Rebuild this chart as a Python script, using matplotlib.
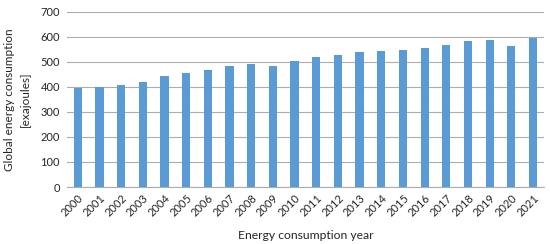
import matplotlib
matplotlib.use("Agg")
import matplotlib.pyplot as plt
import numpy as np

years = [str(y) for y in range(2000, 2022)]
consumption = [394, 399, 406, 420, 442, 456, 468, 484, 490, 483, 504,
               519, 527, 538, 543, 547, 555, 567, 583, 588, 565, 595]

plt.rcParams['font.family'] = ['Lato', 'DejaVu Sans']

fig = plt.figure(figsize=(5.5, 2.44), dpi=100)
ax = fig.add_axes([0.1218, 0.2336, 0.867, 0.7184])

x = np.arange(len(years))
ax.bar(x, consumption, width=0.38, color='#5B9BD5', zorder=3)

ax.set_xlim(-0.5, len(years) - 0.5)
ax.set_ylim(0, 700)
ax.set_yticks(range(0, 701, 100))
ax.set_xticks(x)
ax.set_xticklabels(years, rotation=45, ha='right', rotation_mode='anchor')
ax.tick_params(axis='both', length=0, labelsize=8, colors='#262626', pad=5)
ax.tick_params(axis='x', pad=4)

ax.yaxis.grid(True, color='#ADADAD', linewidth=0.8, zorder=0)
for s in ['top', 'right', 'left']:
    ax.spines[s].set_visible(False)
ax.spines['bottom'].set_color('#ADADAD')
ax.spines['bottom'].set_linewidth(0.8)

ax.set_ylabel("Global energy consumption\n[exajoules]", fontsize=8.5,
              color='#262626', linespacing=1.5, labelpad=7)
ax.set_xlabel("Energy consumption year", fontsize=8.7, color='#262626', labelpad=8)

fig.savefig("out.png", dpi=100)
